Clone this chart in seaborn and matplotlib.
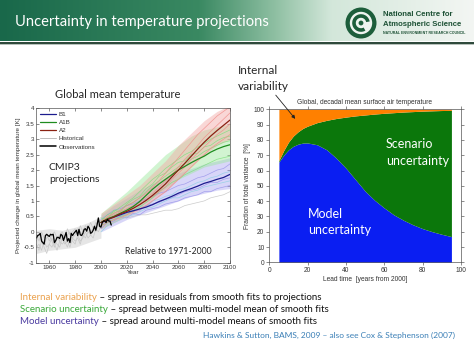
import numpy as np
import pandas as pd
import matplotlib
matplotlib.use("Agg")
import matplotlib.pyplot as plt
import seaborn as sns
from matplotlib.colors import LinearSegmentedColormap
from matplotlib.patches import Circle, Wedge, Rectangle
from matplotlib.lines import Line2D

# ---- data: global mean temperature (CMIP3) ----
obs_years = list(range(1950, 2009))
obs_temp = [-0.20, -0.12, -0.10, -0.05, -0.30, -0.35, -0.40, -0.12, -0.08, -0.12,
            -0.15, -0.08, -0.10, -0.08, -0.35, -0.28, -0.18, -0.18, -0.22, -0.08,
            -0.12, -0.28, -0.15, -0.02, -0.30, -0.22, -0.35, -0.05, -0.12, -0.05,
            0.00, 0.05, -0.12, 0.08, -0.10, -0.12, -0.05, 0.08, 0.10, 0.02,
            0.18, 0.12, -0.05, -0.02, 0.05, 0.18, 0.05, 0.22, 0.45, 0.18,
            0.15, 0.30, 0.35, 0.35, 0.30, 0.40, 0.35, 0.35, 0.22]

hist_years = list(range(1950, 2001, 2))
hist_1 = [-0.3, -0.1, -0.2, -0.4, -0.2, -0.1, -0.3, -0.5, -0.2, -0.3, -0.1, -0.2, -0.1,
          0.0, -0.2, -0.1, 0.1, 0.0, -0.1, 0.1, 0.2, 0.0, 0.1, 0.3, 0.2, 0.4]
hist_2 = [-0.5, -0.4, -0.6, -0.3, -0.5, -0.4, -0.2, -0.4, -0.6, -0.3, -0.4, -0.3, -0.5,
          -0.2, -0.3, -0.4, -0.1, -0.3, -0.2, 0.0, -0.2, -0.1, 0.1, 0.0, 0.2, 0.1]
hist_3 = [-0.1, -0.3, 0.0, -0.2, -0.1, -0.3, -0.1, 0.0, -0.2, -0.1, 0.0, -0.2, 0.1,
          -0.1, 0.0, 0.1, -0.1, 0.2, 0.0, 0.2, 0.1, 0.3, 0.1, 0.2, 0.4, 0.3]
hist_4 = [-0.4, -0.6, -0.3, -0.5, -0.7, -0.4, -0.5, -0.3, -0.4, -0.5, -0.2, -0.4, -0.3,
          -0.5, -0.2, -0.3, -0.2, -0.4, -0.1, -0.2, 0.0, -0.1, -0.2, 0.1, 0.0, 0.2]

fut_years = list(range(2000, 2101, 5))
b1_mean = [0.30, 0.40, 0.48, 0.55, 0.63, 0.68, 0.74, 0.80, 0.88, 0.98, 1.06,
           1.15, 1.25, 1.33, 1.40, 1.48, 1.57, 1.63, 1.70, 1.76, 1.86]
a1b_mean = [0.30, 0.42, 0.50, 0.60, 0.70, 0.82, 0.98, 1.18, 1.38, 1.55, 1.70,
            1.85, 2.00, 2.12, 2.24, 2.35, 2.45, 2.58, 2.68, 2.76, 2.82]
a2_mean = [0.30, 0.40, 0.48, 0.58, 0.66, 0.76, 0.88, 1.02, 1.18, 1.36, 1.55,
           1.78, 2.00, 2.22, 2.45, 2.68, 2.90, 3.10, 3.28, 3.45, 3.62]

b1_m1 = [0.10, 0.30, 0.35, 0.50, 0.45, 0.60, 0.55, 0.70, 0.75, 0.80, 0.90,
         0.95, 1.00, 1.10, 1.15, 1.20, 1.30, 1.30, 1.40, 1.45, 1.50]
b1_m2 = [0.40, 0.55, 0.70, 0.75, 0.85, 0.90, 1.00, 1.05, 1.15, 1.25, 1.30,
         1.40, 1.50, 1.55, 1.65, 1.75, 1.80, 1.90, 2.00, 2.05, 2.20]
b1_m3 = [0.25, 0.35, 0.45, 0.50, 0.60, 0.70, 0.70, 0.85, 0.90, 0.95, 1.05,
         1.10, 1.20, 1.30, 1.35, 1.40, 1.50, 1.60, 1.60, 1.70, 1.75]
b1_m4 = [0.00, 0.20, 0.30, 0.40, 0.50, 0.55, 0.65, 0.75, 0.80, 0.90, 1.00,
         1.10, 1.10, 1.20, 1.30, 1.35, 1.45, 1.50, 1.55, 1.60, 1.65]
b1_m5 = [0.30, 0.25, 0.50, 0.45, 0.70, 0.65, 0.85, 0.80, 1.00, 1.05, 1.15,
         1.20, 1.35, 1.40, 1.50, 1.60, 1.65, 1.75, 1.80, 1.90, 1.95]
a1b_m1 = [0.35, 0.55, 0.65, 0.80, 0.95, 1.10, 1.30, 1.50, 1.70, 1.85, 2.05,
          2.20, 2.35, 2.50, 2.60, 2.75, 2.85, 3.00, 3.10, 3.20, 3.30]
a1b_m2 = [0.20, 0.30, 0.40, 0.50, 0.55, 0.70, 0.80, 0.95, 1.10, 1.30, 1.45,
          1.60, 1.70, 1.85, 1.95, 2.05, 2.15, 2.25, 2.35, 2.40, 2.45]
a1b_m3 = [0.30, 0.45, 0.60, 0.70, 0.85, 0.95, 1.10, 1.30, 1.50, 1.65, 1.80,
          1.95, 2.10, 2.20, 2.35, 2.45, 2.60, 2.70, 2.80, 2.90, 2.95]
a1b_m4 = [0.45, 0.40, 0.70, 0.65, 0.90, 1.05, 1.15, 1.40, 1.55, 1.80, 1.90,
          2.10, 2.25, 2.30, 2.50, 2.55, 2.75, 2.80, 2.95, 3.05, 3.10]
a2_m1 = [0.30, 0.50, 0.60, 0.70, 0.85, 0.95, 1.10, 1.25, 1.45, 1.65, 1.90,
         2.15, 2.40, 2.65, 2.90, 3.15, 3.35, 3.55, 3.75, 3.90, 4.05]
a2_m2 = [0.20, 0.30, 0.40, 0.45, 0.55, 0.65, 0.75, 0.85, 1.00, 1.15, 1.30,
         1.50, 1.70, 1.90, 2.10, 2.30, 2.50, 2.70, 2.85, 3.00, 3.15]
a2_m3 = [0.35, 0.45, 0.55, 0.65, 0.75, 0.85, 0.95, 1.10, 1.25, 1.45, 1.65,
         1.85, 2.10, 2.35, 2.55, 2.80, 3.05, 3.25, 3.45, 3.65, 3.85]
a2_m4 = [0.25, 0.40, 0.45, 0.60, 0.65, 0.80, 0.90, 1.00, 1.15, 1.30, 1.45,
         1.70, 1.90, 2.10, 2.35, 2.55, 2.75, 2.95, 3.15, 3.30, 3.50]
commit_m = [0.30, 0.35, 0.40, 0.45, 0.45, 0.50, 0.55, 0.55, 0.60, 0.65, 0.70,
            0.70, 0.75, 0.85, 0.90, 0.95, 1.00, 1.10, 1.15, 1.20, 1.30]

band_years = list(range(2000, 2101, 10))
a2_lo = [0.1, 0.3, 0.5, 0.7, 1.0, 1.3, 1.7, 2.1, 2.5, 2.8, 3.0]
a2_hi = [0.6, 0.9, 1.2, 1.5, 1.9, 2.3, 2.8, 3.2, 3.6, 3.9, 4.1]
a1b_lo = [0.1, 0.3, 0.5, 0.8, 1.1, 1.4, 1.7, 1.9, 2.1, 2.2, 2.3]
a1b_hi = [0.6, 0.95, 1.3, 1.7, 2.1, 2.5, 2.8, 3.1, 3.3, 3.4, 3.5]
b1_lo = [0.0, 0.2, 0.4, 0.55, 0.7, 0.85, 1.0, 1.15, 1.25, 1.35, 1.4]
b1_hi = [0.55, 0.85, 1.1, 1.35, 1.55, 1.75, 1.9, 2.05, 2.2, 2.3, 2.4]
hist_band_years = list(range(1950, 2001, 10))
hist_lo = [-0.7, -0.6, -0.55, -0.5, -0.35, -0.2]
hist_hi = [0.05, 0.1, 0.05, 0.15, 0.3, 0.5]

# ---- data: fraction of total variance ----
lead_time = [5, 7.5, 10, 12.5, 15, 17.5, 20, 25, 30, 35, 40, 45, 50, 55,
             60, 65, 70, 75, 80, 85, 90, 95]
model_frac = [65.5, 70.0, 73.5, 75.8, 77.2, 77.9, 78.0, 76.8, 73.5, 68.0, 61.5,
              54.0, 46.5, 40.5, 35.5, 31.0, 27.5, 24.5, 22.0, 20.0, 18.3, 16.8]
scenario_frac = [1.0, 3.0, 5.0, 6.7, 8.1, 9.6, 11.0, 14.5, 19.3, 26.0, 33.4,
                 41.7, 49.8, 56.4, 61.9, 66.8, 70.7, 74.0, 76.8, 79.0, 80.9, 82.5]
internal_frac = [33.5, 27.0, 21.5, 17.5, 14.7, 12.5, 11.0, 8.7, 7.2, 6.0, 5.1,
                 4.3, 3.7, 3.1, 2.6, 2.2, 1.8, 1.5, 1.2, 1.0, 0.8, 0.7]

# ---- long tables for seaborn ----
rows = []
for name, vals in [("h1", hist_1), ("h2", hist_2), ("h3", hist_3), ("h4", hist_4)]:
    rows += [("Historical", name, y, v) for y, v in zip(hist_years, vals)]
members = [("B1", "b1", b1_m1), ("B1", "b2", b1_m2), ("B1", "b3", b1_m3),
           ("B1c", "b4", b1_m4), ("B1c", "b5", b1_m5),
           ("A1B", "g1", a1b_m1), ("A1B", "g2", a1b_m2),
           ("A1B", "g3", a1b_m3), ("A1B", "g4", a1b_m4),
           ("A2", "r1", a2_m1), ("A2", "r2", a2_m2),
           ("A2", "r3", a2_m3), ("A2", "r4", a2_m4), ("Historical", "c1", commit_m)]
for scen, name, vals in members:
    rows += [(scen, name, y, v) for y, v in zip(fut_years, vals)]
runs = pd.DataFrame(rows, columns=["scen", "run", "year", "temp"])

means = pd.DataFrame({
    "year": fut_years * 3,
    "temp": b1_mean + a1b_mean + a2_mean,
    "scen": ["B1"] * 21 + ["A1B"] * 21 + ["A2"] * 21,
})

run_pal = {"B1": "#9a94ea", "B1c": "#8fd0e4", "A1B": "#7fdf7f",
           "A2": "#f08c88", "Historical": "#c2c2c2"}
mean_pal = {"B1": "#1c1c8e", "A1B": "#1f8c1f", "A2": "#8a2212"}

sns.set_theme(style="ticks")
plt.rcParams['font.family'] = ['Lato', 'DejaVu Sans']
small_font = ['Liberation Sans', 'DejaVu Sans']

W, H = 474, 355
fig = plt.figure(figsize=(W / 100, H / 100), dpi=100)


def box(x0, y0, x1, y1):
    return [x0 / W, 1 - y1 / H, (x1 - x0) / W, (y1 - y0) / H]


# ---- left panel ----
ax1 = fig.add_axes(box(36.4, 108.3, 230, 262.7))
ax1.fill_between(hist_band_years, hist_lo, hist_hi, color="#d2d2d2", alpha=0.55, lw=0)
ax1.fill_between(band_years, b1_lo, b1_hi, color="#aaa6f0", alpha=0.45, lw=0)
ax1.fill_between(band_years, a1b_lo, a1b_hi, color="#9be89b", alpha=0.45, lw=0)
ax1.fill_between(band_years, a2_lo, a2_hi, color="#f3a8a4", alpha=0.45, lw=0)
sns.lineplot(data=runs, x="year", y="temp", hue="scen", units="run", estimator=None,
             palette=run_pal, lw=0.5, alpha=0.85, legend=False, ax=ax1)
sns.lineplot(data=means, x="year", y="temp", hue="scen", palette=mean_pal,
             lw=0.9, legend=False, ax=ax1)
sns.lineplot(x=obs_years, y=obs_temp, color="black", lw=0.9, ax=ax1)

ax1.set_xlim(1950, 2100)
ax1.set_ylim(-1, 4)
ax1.set_xticks(range(1960, 2101, 20))
yt = np.arange(-1, 4.01, 0.5)
ax1.set_yticks(yt)
ax1.set_yticklabels([f"{v:g}" for v in yt])
ax1.tick_params(direction="in", length=2, width=0.4, top=True, right=True,
                labelsize=4.5, pad=1.5, colors="#333333")
for lab in ax1.get_xticklabels() + ax1.get_yticklabels():
    lab.set_family(small_font)
ax1.set_xlabel("Year", fontsize=4.5, labelpad=0, family=small_font, color="#333333")
ax1.set_ylabel("Projected change in global mean temperature [K]", fontsize=4.5,
               labelpad=2, family=small_font, color="#333333")
for s in ax1.spines.values():
    s.set_linewidth(0.5)
    s.set_color("#555555")

handles = [Line2D([], [], color=mean_pal["B1"], lw=0.9),
           Line2D([], [], color=mean_pal["A1B"], lw=0.9),
           Line2D([], [], color=mean_pal["A2"], lw=0.9),
           Line2D([], [], color="#bdbdbd", lw=0.7),
           Line2D([], [], color="black", lw=1.1)]
leg = ax1.legend(handles, ["B1", "A1B", "A2", "Historical", "Observations"],
                 loc="upper left", frameon=False, prop={"family": small_font, "size": 4.5},
                 handlelength=2.6, handletextpad=0.5, labelspacing=0.45,
                 borderaxespad=0.3, borderpad=0.2)
for t in leg.get_texts():
    t.set_color("#333333")

# ---- right panel ----
ax2 = fig.add_axes(box(269.3, 109.3, 461, 262.3))
ax2.stackplot(lead_time, model_frac, scenario_frac, internal_frac,
              colors=["#0a1ef2", "#0b770b", "#ff8000"], lw=0)
ax2.set_xlim(0, 100)
ax2.set_ylim(0, 100)
ax2.set_xticks(range(0, 101, 20))
ax2.set_yticks(range(0, 101, 10))
ax2.tick_params(direction="out", length=2, width=0.4, top=True, right=True,
                labelsize=4.8, pad=1.5, colors="#333333")
for lab in ax2.get_xticklabels() + ax2.get_yticklabels():
    lab.set_family(small_font)
ax2.set_xlabel("Lead time  [years from 2000]", fontsize=4.8, labelpad=1,
               family=small_font, color="#333333")
ax2.set_ylabel("Fraction of total variance  [%]", fontsize=4.8, labelpad=2,
               family=small_font, color="#333333")
for s in ax2.spines.values():
    s.set_linewidth(0.5)
    s.set_color("#555555")

# ---- slide layer (pixel coordinates) ----
ov = fig.add_axes([0, 0, 1, 1], zorder=5)
ov.set_xlim(0, W)
ov.set_ylim(H, 0)
ov.axis("off")
ov.patch.set_alpha(0)

band = LinearSegmentedColormap.from_list(
    "band", [(0, "#19684a"), (0.42, "#3a8962"), (0.58, "#8ebfa2"),
             (0.7, "#d3e7da"), (1, "#f3f6f3")])
ov.imshow(np.linspace(0, 1, 256)[None, :], cmap=band, aspect="auto",
          extent=[0, W, 41.5, 0])
ov.add_patch(Rectangle((0, 41.5), W, 2.2, color="#2f4a3c", lw=0))
ov.add_patch(Rectangle((0, 43.7), W, 1.2, color="#b8c2bc", lw=0))
ov.text(15, 22, "Uncertainty in temperature projections", color="white",
        fontsize=10.6, va="center", ha="left")

# logo
ov.add_patch(Circle((361, 23), 15.5, color="#1d5e3b", lw=0))
ov.add_patch(Circle((361, 23), 11.2, color="#eef4ef", lw=0))
ov.add_patch(Wedge((361, 23), 8.8, 60, 350, width=3.6, color="#1d5e3b", lw=0))
ov.add_patch(Circle((361, 23), 2.4, color="#1d5e3b", lw=0))
ov.text(383, 14.5, "National Centre for", color="#1e5236", fontsize=5.6,
        fontweight="bold", va="center", family=small_font)
ov.text(383, 24.5, "Atmospheric Science", color="#1e5236", fontsize=5.6,
        fontweight="bold", va="center", family=small_font)
ov.text(383, 33, "NATURAL ENVIRONMENT RESEARCH COUNCIL", color="#1e5236",
        fontsize=2.5, fontweight="bold", va="center", family=small_font)

# panel annotations
ov.text(118, 95, "Global mean temperature", fontsize=8, ha="center", va="center")
ov.text(49, 167, "CMIP3", fontsize=7.5, ha="left", va="center")
ov.text(49, 179.5, "projections", fontsize=7.5, ha="left", va="center")
ov.text(168, 251, "Relative to 1971-2000", fontsize=6.2, ha="center", va="center")

ov.text(365, 102.5, "Global, decadal mean surface air temperature", fontsize=4.8,
        ha="center", va="center", family=small_font, color="#333333")
ov.text(238, 70, "Internal", fontsize=8.5, ha="left", va="center")
ov.text(238, 86.5, "variability", fontsize=8.5, ha="left", va="center")
ov.annotate("", xy=(297, 121), xytext=(274, 93),
            arrowprops=dict(arrowstyle="-|>", color="#222222", lw=0.6,
                            mutation_scale=5))
ov.text(386, 144.5, "Scenario", fontsize=9, color="white", ha="left", va="center")
ov.text(386, 161, "uncertainty", fontsize=9, color="white", ha="left", va="center")
ov.text(308, 214, "Model", fontsize=9, color="white", ha="left", va="center")
ov.text(308, 230.5, "uncertainty", fontsize=9, color="white", ha="left", va="center")

# footnotes
notes = [("Internal variability", "#eba24e", " \u2013 spread in residuals from smooth fits to projections", 298),
         ("Scenario uncertainty", "#3aa83a", " \u2013 spread between multi-model mean of smooth fits", 310),
         ("Model uncertainty", "#4a3aa0", " \u2013 spread around multi-model means of smooth fits", 322)]
for key, col, rest, y in notes:
    t1 = ov.text(20, y, key, color=col, fontsize=7.0, ha="left", va="center")
    ov.annotate(rest, xy=(1, 0.5), xycoords=t1, va="center", ha="left",
                fontsize=7.0, color="#111111")
ov.text(455, 335, "Hawkins & Sutton, BAMS, 2009 \u2013 also see Cox & Stephenson (2007)",
        color="#3a7fb6", fontsize=6.0, ha="right", va="center")

fig.savefig("out.png", dpi=100)
